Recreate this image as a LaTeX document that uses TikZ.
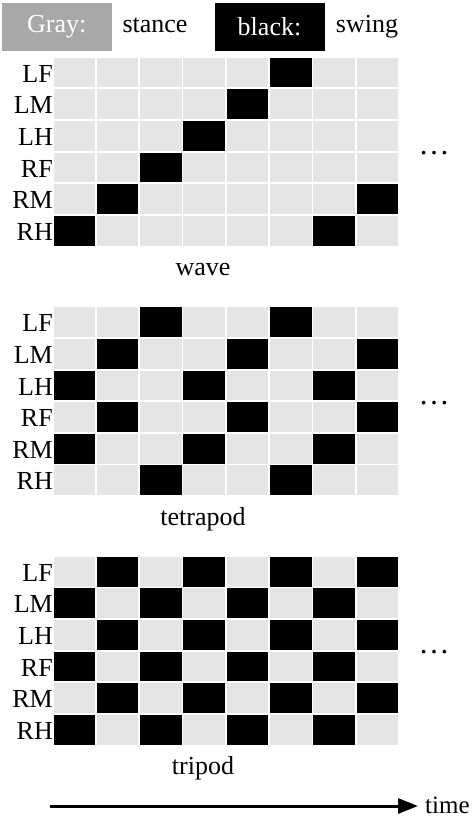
\documentclass[tikz,border=0pt]{standalone}
\usepackage{fontspec}
\setmainfont{Liberation Serif}
\usepackage{tikz}
\usetikzlibrary{arrows.meta}
\definecolor{stancegray}{RGB}{229,229,229}
\definecolor{keygray}{RGB}{168,168,168}
\tikzstyle{stance}=[rectangle,fill=stancegray,draw=none,minimum width=41.5pt,minimum height=29.8pt,inner sep=0pt]
\tikzstyle{swing}=[stance,fill=black]
\tikzstyle{leg}=[anchor=east,inner sep=0pt,font=\fontsize{26}{26}\selectfont]
\tikzstyle{caption}=[anchor=base,inner sep=0pt,font=\fontsize{26}{26}\selectfont]
\tikzstyle{keybox}=[rectangle,minimum width=110pt,minimum height=48pt,inner sep=0pt,text=white,font=\fontsize{26}{26}\selectfont]
\tikzstyle{timearrow}=[-{Triangle[length=20pt,width=15pt]},line width=3pt]

\begin{document}
\begin{tikzpicture}[x=1pt,y=-1pt]
	\useasboundingbox (0,0) rectangle (474,818);

	% key
	\node [style=keybox,fill=keygray] (graykey) at (56.7,26.7) {Gray:};
	\node [style=caption] (stance) at (155,32.5) {stance};
	\node [style=keybox,fill=black] (blackkey) at (269.5,26.7) {black:};
	\node [style=caption] (swing) at (367,32.5) {swing};

	% grids, legs
	\foreach \g/\top in {w/57.7,t/307.2,p/556.7} {
		\foreach \r in {1,...,6}
			\foreach \c in {1,...,8}
				\node [style=stance] (\g-\r-\c) at ({74.25+43.3*(\c-1)},{\top+14.9+31.65*(\r-1)}) {};
		\foreach \leg [count=\r] in {LF,LM,LH,RF,RM,RH}
			\node [style=leg] (\g-\leg) at (53,{\top+16+31.65*(\r-1)}) {\leg};
		\node [style=caption,font=\fontsize{31}{31}\selectfont] (\g-dots) at (434,{\top+97}) {\ldots};
	}

	% wave
	\foreach \r/\cols in {1/{6},2/{5},3/{4},4/{3},5/{2,8},6/{1,7}}
		\foreach \c in \cols
			\node [style=swing] (w-\r-\c-sw) at ({74.25+43.3*(\c-1)},{57.7+14.9+31.65*(\r-1)}) {};
	\node [style=caption] (wave) at (203,275.7) {wave};

	% tetrapod
	\foreach \r/\cols in {1/{3,6},2/{2,5,8},3/{1,4,7},4/{2,5,8},5/{1,4,7},6/{3,6}}
		\foreach \c in \cols
			\node [style=swing] (t-\r-\c-sw) at ({74.25+43.3*(\c-1)},{307.2+14.9+31.65*(\r-1)}) {};
	\node [style=caption] (tetrapod) at (203,525.2) {tetrapod};

	% tripod
	\foreach \r/\cols in {1/{2,4,6,8},2/{1,3,5,7},3/{2,4,6,8},4/{1,3,5,7},5/{2,4,6,8},6/{1,3,5,7}}
		\foreach \c in \cols
			\node [style=swing] (p-\r-\c-sw) at ({74.25+43.3*(\c-1)},{556.7+14.9+31.65*(\r-1)}) {};
	\node [style=caption] (tripod) at (203,774.7) {tripod};

	% time axis
	\coordinate (tstart) at (50,806);
	\coordinate (tend) at (418,806);
	\node [style=caption,anchor=base west,font=\fontsize{25}{25}\selectfont] (time) at (425,813) {time};
	\draw [style=timearrow] (tstart) to (tend);
\end{tikzpicture}
\end{document}
